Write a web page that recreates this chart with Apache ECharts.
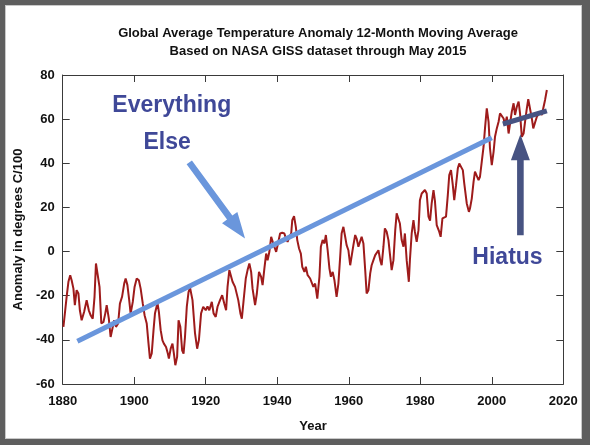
<!DOCTYPE html>
<html>
<head>
<meta charset="utf-8">
<script src="https://cdn.jsdelivr.net/npm/echarts@6/dist/echarts.min.js"></script>
<style>
  html, body { margin: 0; padding: 0; background: #5e5e5e; width: 590px; height: 445px; overflow: hidden; }
  #panel { position: absolute; left: 5px; top: 5px; width: 575px; height: 432px; background: #ffffff; border: 1px solid #c9c9c9; }
  #chart { position: absolute; left: 0; top: 0; width: 590px; height: 445px; }
</style>
</head>
<body>
<div id="panel"></div>
<div id="chart"></div>
<script>
// ---- Data ----
const titleLines = ['Global Average Temperature Anomaly 12-Month Moving Average', 'Based on NASA GISS dataset through May 2015'];
const xTicks = [1880, 1900, 1920, 1940, 1960, 1980, 2000, 2020];
const yTicks = [-60, -40, -20, 0, 20, 40, 60, 80];

const years = [
1880.2,1880.7,1881.1,1881.6,1882.1,1882.5,1883.0,1883.4,1883.9,1884.4,1884.8,1885.3,1886.0,1886.7,1887.3,1887.8,1888.4,1888.9,1889.3,1889.8,
1890.3,1890.8,1891.4,1891.9,1892.3,1892.9,1893.4,1893.8,1894.4,1894.9,1895.5,1896.0,1896.6,1897.2,1897.6,1898.1,1898.6,1899.0,1899.6,
1900.1,1900.7,1901.3,1901.8,1902.4,1902.9,1903.5,1904.0,1904.4,1904.9,1905.4,1905.8,1906.5,1906.9,1907.4,1907.9,1908.3,1908.9,1909.4,1909.7,
1910.2,1910.7,1911.1,1911.5,1912.0,1912.4,1912.9,1913.4,1913.8,1914.2,1914.7,1915.2,1915.6,1916.3,1917.0,1917.6,1918.1,1918.7,1919.3,
1920.0,1920.5,1921.0,1921.7,1922.2,1922.8,1923.3,1924.0,1924.6,1925.2,1925.7,1926.1,1926.6,1927.1,1927.5,1928.2,1928.7,1929.1,1929.7,
1930.1,1930.6,1931.2,1931.7,1932.2,1932.7,1933.1,1933.8,1934.3,1934.9,1935.5,1935.9,1936.4,1936.9,1937.3,1937.8,1938.3,1938.7,1939.2,1939.7,
1940.1,1940.8,1941.4,1942.0,1942.5,1942.9,1943.4,1943.9,1944.2,1944.7,1945.2,1945.6,1946.1,1946.6,1947.0,1947.6,1948.0,1948.5,1949.2,1949.6,
1950.1,1950.6,1951.2,1951.8,1952.2,1952.7,1953.2,1953.6,1954.1,1954.6,1955.0,1955.5,1956.0,1956.6,1957.1,1957.6,1958.0,1958.5,1959.0,1959.4,1959.9,
1960.4,1960.8,1961.3,1961.8,1962.2,1962.7,1963.2,1963.6,1964.1,1964.6,1965.0,1965.5,1966.0,1966.4,1966.9,1967.4,1967.8,1968.3,1968.8,1969.2,1969.7,
1970.1,1970.6,1971.1,1971.5,1972.0,1972.5,1973.0,1973.4,1973.9,1974.3,1974.8,1975.3,1975.7,1976.2,1976.8,1977.1,1977.6,1978.1,1978.5,1979.0,1979.5,1979.9,
1980.4,1980.9,1981.3,1981.8,1982.3,1982.74,1983.2,1983.7,1984.1,1984.6,1985.3,1985.7,1986.2,1986.7,1987.2,1987.7,1988.1,1988.6,1989.1,1989.5,
1990.0,1990.5,1990.9,1991.4,1991.9,1992.3,1993.0,1993.6,1993.9,1994.4,1994.9,1995.3,1995.8,1996.3,1996.7,1997.2,1997.7,1998.1,1998.6,1999.1,1999.5,
2000.0,2000.5,2000.9,2001.4,2001.9,2002.3,2002.8,2003.3,2003.7,2004.2,2004.7,2005.1,2005.6,2006.1,2006.5,2007.0,2007.5,2007.9,2008.4,2008.9,2009.3,2009.8,
2010.2,2010.7,2011.2,2011.6,2012.1,2012.6,2013.0,2013.5,2014.0,2014.4,2014.9,2015.4
];
const anomaly = [
-34.1,-26.6,-20.5,-13.7,-10.7,-13,-16.8,-24.3,-17.5,-19,-26.6,-31.1,-27.3,-22,-26.6,-28.8,-30.4,-20.5,-5.4,-6.2,
-16,-32.6,-31.9,-28.1,-24.3,-30.4,-38.7,-38.7,-31.1,-34.1,-32.6,-23.6,-20.5,-14.5,-12.2,-15.2,-22,-28.1,-22.8,
-16,-12.2,-13,-16.8,-23.6,-28.8,-32.6,-41.7,-48.5,-46.2,-35.6,-28.1,-23.3,-27.3,-35.6,-40.2,-41.7,-43.2,-46.2,-48.5,
-44,-41.7,-46.2,-51.5,-47.7,-31.1,-34.1,-44.7,-46.2,-38.7,-25.1,-18.3,-16.3,-22,-37,-44,-40,-28,-25,
-26.6,-24.8,-26.6,-22.8,-28,-29.6,-25,-22,-19.8,-23.6,-26.6,-16,-8.4,-7.7,-13.7,-16,-15.2,-22,-28,
-30.4,-22,-12.2,-8.4,-5.4,-9.2,-16.8,-24.3,-19,-9.2,-11.5,-15.2,-7.7,-0.9,-3.9,-0.1,6.7,7.4,2.1,-0.1,
2.9,8.2,8.5,8.2,5.5,4.4,6.7,8.2,14.2,16,11.2,5.2,1.4,-0.9,-6.9,-9.2,-6.9,-10.7,-12.2,-11.8,
-16,-14.5,-21.3,-11.4,2.2,5.2,3.7,7.5,0.6,-7.7,-11.4,-9.2,-13,-20.5,-14.5,-2.4,8.2,11.2,6.7,2.9,0.6,
-6.2,-6.2,2.9,7.5,5.9,2.2,2.9,6.7,3.7,-8.4,-19,-17.5,-9.9,-6.2,-3.9,-1.6,-0.9,0.6,-3.9,-6.2,2.2,
10.5,9.0,5.2,-0.9,-8.4,-3.9,9.7,17.3,18.0,12.7,5.2,2.2,8.2,-3.9,-13.7,-3.9,8.2,14.3,9.0,4.4,9.7,23.3,
26.3,27.1,27.9,26.3,15.8,14,22,27.8,23,12,9,6.7,15,15.8,15.8,25.6,34.6,36.9,30.1,23.3,
30.1,37.7,39.9,39.2,36.9,30.9,21.8,18,19.5,24,31.6,36.2,36.2,32.4,33.9,40.7,47.5,55.8,64.9,58.8,46.7,
39.2,45.2,52,55.8,58.8,62.6,61.9,60.3,57.3,61.1,53.5,52.8,63.4,67.2,61.9,65.6,67.9,62.6,52,53.5,58.8,64.9,
69.1,68.7,60.3,55.8,56.6,61.1,60.3,63.4,61.9,64.9,68.7,73.2
];

// Trend lines drawn on the chart
const trendYears = [1884.1, 2000.0];
const trendValues = [-40.6, 51.6];
const hiatusYears = [2003.1, 2015.4];
const hiatusValues = [57.8, 63.7];

// Annotations (data coordinates)
const arrowFromX = [1915.4, 2008.0];
const arrowFromY = [40.4, 7.4];
const arrowToX = [1931.0, 2008.0];
const arrowToY = [5.9, 53.1];
const labelTexts = ['Everything', 'Else', 'Hiatus'];
const labelX = [1910.5, 1909.2, 2004.4];
const labelY = [66.0, 49.4, -2.7];

// ---- Styles ----
const FONT = '"Liberation Sans", Arial, Helvetica, sans-serif';
const RED = '#9e1b1b';
const LIGHT_BLUE = '#6a96dc';
const NAVY = '#475382';
const TEXT_BLUE = '#3f4898';
const AXIS = '#3a3a3a';

const zip = (a, b) => a.map((v, i) => [v, b[i]]);

function arrowItem(params, api) {
  const p0 = api.coord([api.value(0), api.value(1)]);
  const p1 = api.coord([api.value(2), api.value(3)]);
  const dx = p1[0] - p0[0], dy = p1[1] - p0[1];
  const len = Math.sqrt(dx * dx + dy * dy);
  const ux = dx / len, uy = dy / len;
  const nx = -uy, ny = ux;
  const headLen = 26, headHalf = 9.5, shaftHalf = 3.3;
  const bx = p1[0] - ux * headLen, by = p1[1] - uy * headLen;
  const pts = [
    [p0[0] + nx * shaftHalf, p0[1] + ny * shaftHalf],
    [bx + nx * shaftHalf, by + ny * shaftHalf],
    [bx + nx * headHalf, by + ny * headHalf],
    [p1[0], p1[1]],
    [bx - nx * headHalf, by - ny * headHalf],
    [bx - nx * shaftHalf, by - ny * shaftHalf],
    [p0[0] - nx * shaftHalf, p0[1] - ny * shaftHalf]
  ];
  const color = params.dataIndex === 0 ? LIGHT_BLUE : NAVY;
  return { type: 'polygon', shape: { points: pts }, style: { fill: color } };
}

function labelItem(params, api) {
  const p = api.coord([api.value(0), api.value(1)]);
  return {
    type: 'text',
    style: {
      text: labelTexts[params.dataIndex],
      x: p[0], y: p[1],
      fill: TEXT_BLUE,
      font: 'bold 23px ' + FONT,
      align: 'center',
      verticalAlign: 'middle'
    }
  };
}

const chart = echarts.init(document.getElementById('chart'), null, { renderer: 'canvas' });

const axisLabelStyle = { fontFamily: FONT, fontWeight: 'bold', fontSize: 13, color: '#111' };

chart.setOption({
  animation: false,
  backgroundColor: 'transparent',
  title: {
    text: titleLines.join('\n'),
    left: 313,
    top: 19,
    textAlign: 'center',
    textStyle: { fontFamily: FONT, fontWeight: 'bold', fontSize: 13, color: '#111', lineHeight: 18 }
  },
  grid: { left: 62.7, right: 26.7, top: 75, bottom: 61, containLabel: false },
  xAxis: [
    {
      type: 'value', position: 'bottom', min: xTicks[0], max: xTicks[xTicks.length - 1], interval: 20,
      name: 'Year', nameLocation: 'middle', nameGap: 36,
      nameTextStyle: { fontFamily: FONT, fontWeight: 'bold', fontSize: 13, color: '#111' },
      axisLine: { show: true, onZero: false, lineStyle: { color: AXIS, width: 1 } },
      axisTick: { show: true, inside: true, length: 7, lineStyle: { color: AXIS } },
      axisLabel: Object.assign({ margin: 11, formatter: v => String(v) }, axisLabelStyle),
      splitLine: { show: false }
    },
    {
      type: 'value', position: 'top', min: xTicks[0], max: xTicks[xTicks.length - 1], interval: 20,
      axisLine: { show: true, onZero: false, lineStyle: { color: AXIS, width: 1 } },
      axisTick: { show: true, inside: true, length: 7, lineStyle: { color: AXIS } },
      axisLabel: { show: false },
      splitLine: { show: false }
    }
  ],
  yAxis: [
    {
      type: 'value', position: 'left', min: yTicks[0], max: yTicks[yTicks.length - 1], interval: 20,
      name: 'Anomaly in degrees C/100', nameLocation: 'middle', nameGap: 38, nameRotate: 90,
      nameTextStyle: { fontFamily: FONT, fontWeight: 'bold', fontSize: 13, color: '#111' },
      axisLine: { show: true, onZero: false, lineStyle: { color: AXIS, width: 1 } },
      axisTick: { show: true, inside: true, length: 7, lineStyle: { color: AXIS } },
      axisLabel: Object.assign({ margin: 8 }, axisLabelStyle),
      splitLine: { show: false }
    },
    {
      type: 'value', position: 'right', min: yTicks[0], max: yTicks[yTicks.length - 1], interval: 20,
      axisLine: { show: true, onZero: false, lineStyle: { color: AXIS, width: 1 } },
      axisTick: { show: true, inside: true, length: 7, lineStyle: { color: AXIS } },
      axisLabel: { show: false },
      splitLine: { show: false }
    }
  ],
  series: [
    {
      name: 'Anomaly', type: 'line', data: zip(years, anomaly),
      showSymbol: false, symbol: 'none', smooth: false,
      lineStyle: { color: RED, width: 2 }, z: 2
    },
    {
      name: 'Everything else trend', type: 'line', data: zip(trendYears, trendValues),
      showSymbol: false, symbol: 'none',
      lineStyle: { color: LIGHT_BLUE, width: 5, cap: 'butt' }, z: 3
    },
    {
      name: 'Hiatus trend', type: 'line', data: zip(hiatusYears, hiatusValues),
      showSymbol: false, symbol: 'none',
      lineStyle: { color: NAVY, width: 5, cap: 'butt' }, z: 3
    },
    {
      name: 'Arrows', type: 'custom', renderItem: arrowItem, clip: false,
      encode: { x: [0, 2], y: [1, 3] },
      data: arrowFromX.map((v, i) => [v, arrowFromY[i], arrowToX[i], arrowToY[i]]), z: 4
    },
    {
      name: 'Labels', type: 'custom', renderItem: labelItem, clip: false,
      encode: { x: 0, y: 1 },
      data: zip(labelX, labelY), z: 5
    }
  ]
});
</script>
</body>
</html>
